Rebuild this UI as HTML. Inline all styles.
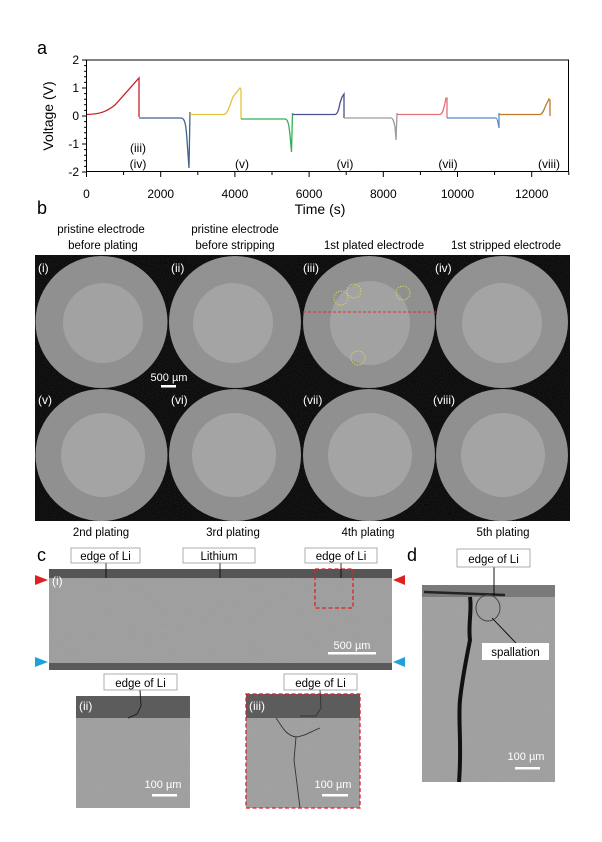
<!DOCTYPE html>
<html><head><meta charset="utf-8"><style>
html,body{margin:0;padding:0;background:#fff;}
svg{display:block;font-family:"Liberation Sans",Arial,sans-serif;}
</style></head><body>
<svg width="602" height="842" viewBox="0 0 602 842" xmlns="http://www.w3.org/2000/svg">
<defs>
<filter id="nz" x="0" y="0" width="100%" height="100%">
<feTurbulence type="fractalNoise" baseFrequency="0.9" numOctaves="2" seed="3"/>
<feColorMatrix type="matrix" values="0 0 0 0 0.5  0 0 0 0 0.5  0 0 0 0 0.5  0 0 0 0.35 0"/>
<feComposite in2="SourceGraphic" operator="in"/>
</filter>
</defs>
<!-- Panel a -->
<text x="37" y="54" font-size="18">a</text>
<rect x="86.5" y="60" width="482" height="111.5" fill="none" stroke="#000" stroke-width="1"/>
<g font-size="12" text-anchor="end">
<text x="79" y="64">2</text><text x="79" y="92">1</text><text x="79" y="120">0</text><text x="79" y="148">-1</text><text x="79" y="176">-2</text>
</g>
<g stroke="#000" stroke-width="1">
<line x1="82" y1="60" x2="86" y2="60"/><line x1="82" y1="88" x2="86" y2="88"/><line x1="82" y1="116" x2="86" y2="116"/><line x1="82" y1="144" x2="86" y2="144"/><line x1="82" y1="172" x2="86" y2="172"/>
<path d="M84 65.6h2M84 71.2h2M84 76.8h2M84 82.4h2M84 93.6h2M84 99.2h2M84 104.8h2M84 110.4h2M84 121.6h2M84 127.2h2M84 132.8h2M84 138.4h2M84 149.6h2M84 155.2h2M84 160.8h2M84 166.4h2"/>
<path d="M86.5 172v5M123.6 172v3M160.7 172v5M197.8 172v3M234.9 172v5M272 172v3M309.1 172v5M346.2 172v3M383.3 172v5M420.4 172v3M457.5 172v5M494.6 172v3M531.7 172v5M568.8 172v3"/>
</g>
<g font-size="12" text-anchor="middle">
<text x="86.5" y="198">0</text><text x="160.7" y="198">2000</text><text x="234.9" y="198">4000</text><text x="309.1" y="198">6000</text><text x="383.3" y="198">8000</text><text x="457.5" y="198">10000</text><text x="531.7" y="198">12000</text>
</g>
<text x="320" y="214" font-size="14" text-anchor="middle">Time (s)</text>
<text transform="translate(53,116) rotate(-90)" font-size="14" text-anchor="middle">Voltage (V)</text>
<g fill="none" stroke-width="1.3">
<path d="M87 114.5 C100 114 106 112 115 105 L139 78 L139 117" stroke="#c8202a"/>
<path d="M139 118 L181 118 C185 118 186 125 187 140 L189 168 L190 112" stroke="#3f648f"/>
<path d="M190 114.5 L224 114.5 C228 114 230 104 233 97 L240 88 L241 90 L241 119" stroke="#e6c33a"/>
<path d="M241 119 L285 119 C288 119 289 125 290 135 L291.5 152 L292.5 113" stroke="#33b058"/>
<path d="M292.5 114.5 L335 114.5 C338 114 339 108 340 103 L342 97 L344 94 L344 118" stroke="#4a4f8e"/>
<path d="M344 118 L391 118 C393 118 394 122 395 127 L396 140 L397 113" stroke="#9c9c9c"/>
<path d="M397 114.5 L440 114.5 C443 114 444 107 445 103 L446 98 L447 98 L447 118" stroke="#e4717a"/>
<path d="M447 118 L496 118 C497 118 498 122 499 128 L499 113" stroke="#5a8bc4"/>
<path d="M499 114.5 L540 114.5 C543 114 544 109 546 105 L549 99 L550 100 L550 116" stroke="#c07a25"/>
</g>
<g font-size="12" text-anchor="middle">
<text x="138" y="152">(iii)</text><text x="138" y="168">(iv)</text>
<text x="242" y="168">(v)</text><text x="345" y="168">(vi)</text><text x="448" y="168">(vii)</text><text x="549" y="168">(viii)</text>
</g>
<!-- Panel b -->
<text x="37" y="214" font-size="18">b</text>
<g font-size="11.5" text-anchor="middle">
<text x="101" y="233">pristine electrode</text><text x="103" y="249">before plating</text>
<text x="235" y="233">pristine electrode</text><text x="235" y="249">before stripping</text>
<text x="374" y="249">1st plated electrode</text><text x="506" y="249">1st stripped electrode</text>
<text x="101" y="536">2nd plating</text><text x="233" y="536">3rd plating</text><text x="368" y="536">4th plating</text><text x="503" y="536">5th plating</text>
</g>
<rect x="35" y="255" width="535" height="266" fill="#000"/>
<g>
<ellipse cx="101.5" cy="322" rx="66" ry="66" fill="#8c8c8c"/><ellipse cx="103" cy="323" rx="40" ry="40" fill="#a0a0a0"/>
<ellipse cx="235" cy="322" rx="66" ry="66" fill="#8e8e8e"/><ellipse cx="233" cy="323" rx="40" ry="40" fill="#a2a2a2"/>
<ellipse cx="369" cy="322" rx="66" ry="66" fill="#8c8c8c"/><ellipse cx="370" cy="323" rx="40" ry="42" fill="#a0a0a0"/>
<ellipse cx="502" cy="322" rx="66" ry="66" fill="#8e8e8e"/><ellipse cx="502" cy="323" rx="40" ry="40" fill="#a2a2a2"/>
<ellipse cx="101.5" cy="455" rx="66" ry="66" fill="#8c8c8c"/><ellipse cx="103" cy="455" rx="42" ry="42" fill="#a2a2a2"/>
<ellipse cx="235" cy="455" rx="66" ry="66" fill="#8c8c8c"/><ellipse cx="234" cy="455" rx="42" ry="42" fill="#a2a2a2"/>
<ellipse cx="369" cy="455" rx="66" ry="66" fill="#8c8c8c"/><ellipse cx="370" cy="455" rx="42" ry="42" fill="#a2a2a2"/>
<ellipse cx="502" cy="455" rx="66" ry="66" fill="#8c8c8c"/><ellipse cx="503" cy="455" rx="42" ry="42" fill="#a2a2a2"/>
<rect x="35" y="255" width="535" height="266" fill="#888" filter="url(#nz)" opacity="0.5"/>
</g>
<line x1="303" y1="312" x2="436" y2="312" stroke="#e03030" stroke-width="1" stroke-dasharray="3,2"/>
<g fill="none" stroke="#d8d84a" stroke-width="0.9" stroke-dasharray="1.5,1.2">
<circle cx="341" cy="298" r="7"/><circle cx="354" cy="291" r="7"/><circle cx="403" cy="293" r="7"/><circle cx="358" cy="358" r="7"/>
</g>
<g fill="#fff" font-size="12">
<text x="38" y="272">(i)</text><text x="171" y="272">(ii)</text><text x="303" y="272">(iii)</text><text x="435" y="272">(iv)</text>
<text x="38" y="404">(v)</text><text x="171" y="404">(vi)</text><text x="303" y="404">(vii)</text><text x="433" y="404">(viii)</text>
<text x="169" y="381" text-anchor="middle" font-size="11">500 µm</text>
</g>
<rect x="161" y="385" width="15" height="2.5" fill="#fff"/>
<!-- Panel c -->
<text x="37" y="561" font-size="18">c</text>
<rect x="49" y="569" width="343" height="101" fill="#999"/>
<rect x="49" y="569" width="343" height="101" fill="#999" filter="url(#nz)"/>
<rect x="49" y="569" width="343" height="9" fill="#555"/>
<rect x="49" y="663" width="343" height="7" fill="#5a5a5a"/>
<rect x="315" y="569" width="38" height="39" fill="none" stroke="#e02020" stroke-width="1.3" stroke-dasharray="4,2.5"/>
<g stroke="#000" stroke-width="0.8"><line x1="106" y1="563" x2="106" y2="578"/><line x1="220" y1="563" x2="220" y2="578"/><line x1="341" y1="563" x2="341" y2="578"/></g>
<g font-size="11.5" text-anchor="middle">
<rect x="71" y="548" width="69" height="15" fill="#fff" stroke="#999" stroke-width="0.8"/><text x="105.5" y="560">edge of Li</text>
<rect x="183" y="548" width="72" height="15" fill="#fff" stroke="#999" stroke-width="0.8"/><text x="219" y="560">Lithium</text>
<rect x="305" y="548" width="72" height="15" fill="#fff" stroke="#999" stroke-width="0.8"/><text x="341" y="560">edge of Li</text>
</g>
<polygon points="35,575 48,580 35,585" fill="#e02020"/>
<polygon points="405,575 393,580 405,585" fill="#e02020"/>
<polygon points="35,657 48,662 35,667" fill="#1ea0d8"/>
<polygon points="405,657 393,662 405,667" fill="#1ea0d8"/>
<text x="52" y="585" fill="#fff" font-size="12">(i)</text>
<text x="352" y="649" fill="#fff" font-size="11" text-anchor="middle">500 µm</text>
<rect x="328" y="652" width="48" height="2.5" fill="#fff"/>
<!-- c(ii) -->
<rect x="76" y="696" width="114" height="112" fill="#9a9a9a"/>
<rect x="76" y="696" width="114" height="112" fill="#999" filter="url(#nz)"/>
<rect x="76" y="696" width="114" height="22" fill="#5c5c5c"/>
<path d="M140 690 L141 706 L137 714 L128 718" stroke="#222" fill="none" stroke-width="1"/>
<rect x="104" y="674" width="73" height="16" fill="#fff" stroke="#999" stroke-width="0.8"/>
<text x="140.5" y="687" font-size="11.5" text-anchor="middle">edge of Li</text>
<text x="79" y="710" fill="#fff" font-size="12">(ii)</text>
<text x="163" y="788" fill="#fff" font-size="11" text-anchor="middle">100 µm</text>
<rect x="152" y="794" width="25" height="2.5" fill="#fff"/>
<!-- c(iii) -->
<rect x="246" y="694" width="114" height="114" fill="#9a9a9a"/>
<rect x="246" y="694" width="114" height="114" fill="#999" filter="url(#nz)"/>
<rect x="246" y="694" width="114" height="24" fill="#5c5c5c"/>
<path d="M320 690 L321 708 L316 716 L300 716 M276 718 C282 726 285 735 296 737 C305 736 310 732 320 728 M296 737 L294 760 L300 808" stroke="#333" fill="none" stroke-width="0.9"/>
<rect x="246" y="694" width="114" height="114" fill="none" stroke="#e02020" stroke-width="1.3" stroke-dasharray="4,2.5"/>
<rect x="284" y="674" width="73" height="16" fill="#fff" stroke="#999" stroke-width="0.8"/>
<text x="320.5" y="687" font-size="11.5" text-anchor="middle">edge of Li</text>
<text x="249" y="710" fill="#fff" font-size="12">(iii)</text>
<text x="333" y="788" fill="#fff" font-size="11" text-anchor="middle">100 µm</text>
<rect x="322" y="794" width="26" height="2.5" fill="#fff"/>
<!-- d -->
<text x="407" y="561" font-size="18">d</text>
<rect x="422" y="585" width="133" height="197" fill="#9a9a9a"/>
<rect x="422" y="585" width="133" height="197" fill="#999" filter="url(#nz)"/>
<rect x="422" y="585" width="133" height="12" fill="#7a7a7a"/>
<line x1="424" y1="592" x2="505" y2="595" stroke="#222" stroke-width="2.5"/>
<path d="M470 597 C472 610 468 625 470 640 C466 660 462 680 460 700 C458 720 462 745 459 782" stroke="#111" fill="none" stroke-width="4"/>
<ellipse cx="488" cy="608" rx="12" ry="13" fill="none" stroke="#444" stroke-width="1"/>
<line x1="494" y1="567" x2="494" y2="595" stroke="#000" stroke-width="0.9"/>
<line x1="492" y1="618" x2="516" y2="643" stroke="#000" stroke-width="0.9"/>
<rect x="457" y="549" width="73" height="18" fill="#fff" stroke="#999" stroke-width="0.8"/>
<text x="493.5" y="563" font-size="11.5" text-anchor="middle">edge of Li</text>
<rect x="482" y="643" width="67" height="17" fill="#fff"/>
<text x="515.5" y="656" font-size="11.5" text-anchor="middle">spallation</text>
<text x="526" y="760" fill="#fff" font-size="11" text-anchor="middle">100 µm</text>
<rect x="515" y="767" width="25" height="2.5" fill="#fff"/>
</svg>
</body></html>
